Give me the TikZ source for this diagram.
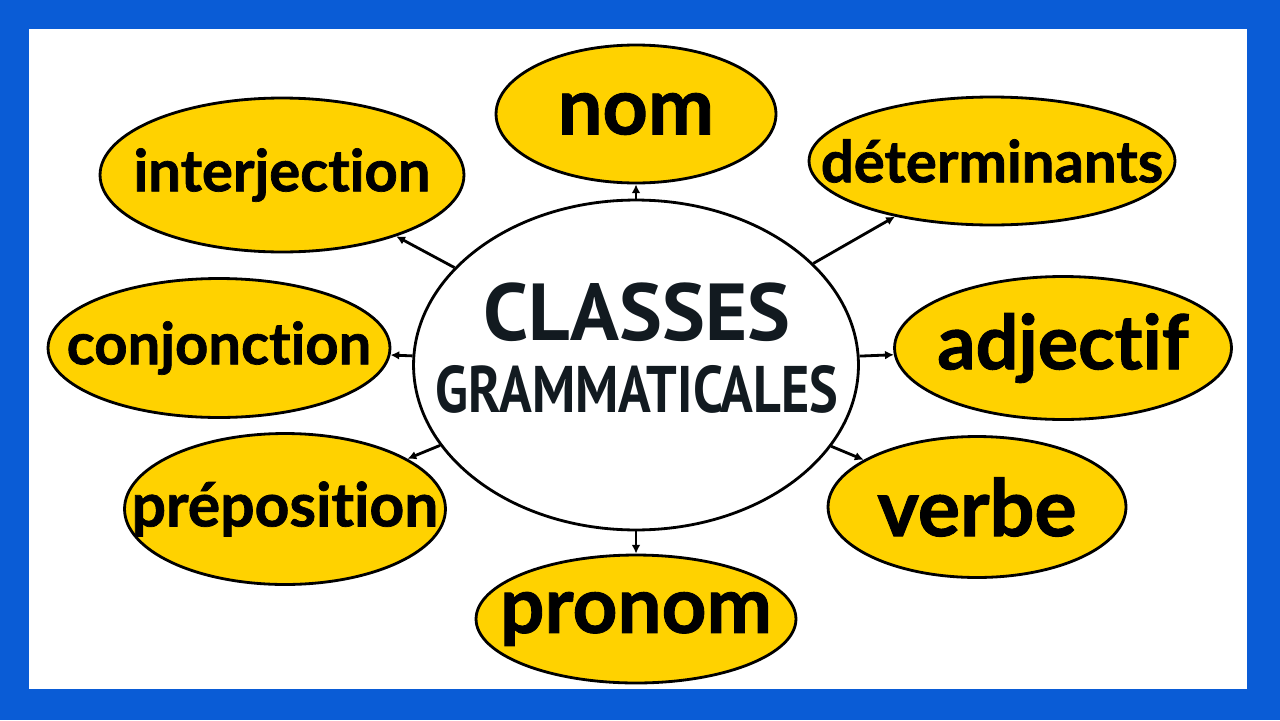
\documentclass[tikz,border=0pt]{standalone}
\usepackage{fontspec}
\usetikzlibrary{shapes.geometric, arrows.meta}
\newfontfamily\etiquette[Ligatures = NoCommon, BoldFeatures = {FakeBold = 1.2}]{Lato}
\newfontfamily\titre{PT Sans}
\newfontfamily\titreetroit[FakeStretch = 0.82]{PT Sans}
\definecolor{jaune}{HTML}{FFD200}
\definecolor{bleu}{HTML}{0A5CD6}
\definecolor{encre}{HTML}{121A20}
\newcommand{\grand}{\fontsize{43}{46}\selectfont}
\newcommand{\moyen}{\fontsize{33}{36}\selectfont}
\newcommand{\mot}[1]{\makebox[0pt]{#1}}

\begin{document}
\begin{tikzpicture}[x = 0.02cm, y = -0.02cm,
    classe/.style = {ellipse, draw = black, line width = 1.6pt, fill = jaune, inner sep = 0pt, font = \etiquette\bfseries, text = black},
    fleche/.style = {-{Latex[length = 5pt, width = 5pt]}, line width = 1.6pt}]
    % Cadre
    \fill[bleu] (0,0) rectangle (1280,720);
    \fill[white] (29,29) rectangle (1247,689);
    % Centre
    \node[ellipse, draw, line width = 1.6pt, fill = white, minimum width = 8.9cm, minimum height = 6.6cm] (centre) at (636,365) {};
    \node[align = center, text = encre, font = \bfseries\fontsize{37.5}{41.4}\selectfont] (titre) at (637,348) {{\titre\fontsize{46}{41.4}\selectfont CLASSES}\\{\titreetroit GRAMMATICALES}};
    % Classes
    \node[classe, minimum width = 5.6cm, minimum height = 2.76cm, font = \etiquette\bfseries\fontsize{45}{46}\selectfont] (nom) at (636,114) {\mot{nom}};
    \node[classe, minimum width = 7.32cm, minimum height = 2.56cm] (determinants) at (992,161) {\moyen\mot{déterminants}};
    \node[classe, minimum width = 6.74cm, minimum height = 2.86cm] (adjectif) at (1063,348) {\grand\mot{adjectif}};
    \node[classe, minimum width = 5.96cm, minimum height = 2.82cm] (verbe) at (977,507) {\fontsize{45}{46}\selectfont\mot{verbe}};
    \node[classe, minimum width = 6.4cm, minimum height = 2.56cm] (pronom) at (636,619) {\fontsize{44.5}{46}\selectfont\mot{pronom}};
    \node[classe, minimum width = 6.42cm, minimum height = 3.02cm] (preposition) at (285,509) {\fontsize{34.5}{36}\selectfont\mot{préposition}};
    \node[classe, minimum width = 6.84cm, minimum height = 2.78cm] (conjonction) at (219,348) {\moyen\mot{conjonction}};
    \node[classe, minimum width = 7.28cm, minimum height = 3.08cm] (interjection) at (282,175) {\moyen\mot{interjection}};
    % Fleches
    \foreach \c in {nom, determinants, adjectif, verbe, pronom, preposition, conjonction, interjection}
        \draw[fleche] (centre) -- (\c);
\end{tikzpicture}
\end{document}
